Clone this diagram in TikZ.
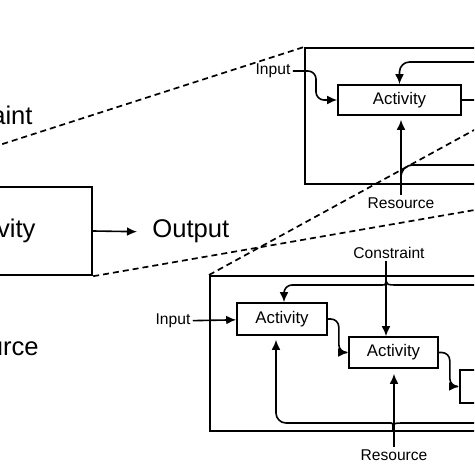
\documentclass[tikz,border=0pt]{standalone}
\usepackage{fontspec}
\setmainfont{Liberation Sans}
\usetikzlibrary{arrows.meta}

\begin{document}
\begin{tikzpicture}[x=0.5pt, y=-0.5pt,
    frame/.style={draw, line width=1.2pt},
    act/.style={draw, line width=0.8pt, font=\fontsize{8.4}{10}\selectfont, inner sep=0pt},
    lbl/.style={font=\fontsize{7.8}{9}\selectfont, inner sep=1pt},
    big/.style={font=\fontsize{12.8}{15}\selectfont, inner sep=0pt},
    flow/.style={line width=0.8pt, -{Latex[length=5pt, width=4.4pt]}},
    wire/.style={line width=0.8pt},
    zoomline/.style={line width=0.85pt, dash pattern=on 3pt off 2pt}]
  \useasboundingbox (0,0) rectangle (474,474);
  \clip (0,0) rectangle (474,474);

  % big activity
  \node[frame, minimum width=97pt, minimum height=44pt, font=\fontsize{12.8}{15}\selectfont] (bigact) at (-5,231) {Activity};
  \node[big, anchor=base east] (bigcon) at (33,125) {Constraint};
  \node[big, anchor=base east] (bigres) at (39,355) {Resource};
  \node[big, anchor=base west] (bigout) at (152,238) {Output};
  \draw[flow] (bigact.east) -- ([xshift=-7.5pt]bigout.west);

  % upper zoom
  \node[frame, anchor=north west, minimum width=155pt, minimum height=68pt] (upper) at (304,47) {};
  \node[act, minimum width=61.5pt, minimum height=15pt] (upact) at (399.5,100) {Activity};
  \node[lbl] (upin) at (273,71) {Input};
  \node[lbl] (upres) at (401,203) {Resource};
  \coordinate (upcon) at (490,62);
  \coordinate (upout) at (490,100);
  \coordinate (upnext) at (490,165);
  \draw[flow, rounded corners=4pt] (upin.east) -- (316,71) |- (upact.west);
  \draw[flow, rounded corners=5pt] (upcon) -| (upact.north);
  \draw[wire] (upact.east) -- (upout);
  \draw[flow, shorten >=2pt] (upres.north) -- (upres.north |- upact.south);
  \draw[wire] (401,178) .. controls (401,170) and (405,165) .. (414,165) -- (upnext);

  % lower zoom
  \node[frame, anchor=north west, minimum width=196pt, minimum height=77.5pt] (lower) at (209,275) {};
  \node[act, minimum width=45pt, minimum height=16pt] (act1) at (282,319) {Activity};
  \node[act, minimum width=44.5pt, minimum height=15.5pt] (act2) at (393.5,352.5) {Activity};
  \node[act, minimum width=44.5pt, minimum height=16.5pt, anchor=west] (act3) at (459,386.5) {Activity};
  \node[lbl] (lin) at (173,321) {Input};
  \node[lbl] (lcon) at (389,253) {Constraint};
  \node[lbl] (lres) at (394,455) {Resource};
  \coordinate (ltop) at (386,276);
  \coordinate (lbot) at (393,430);
  \coordinate (lconr) at (560,285);
  \coordinate (lresr) at (560,423);
  \draw[flow] (lin) -- (act1);
  \draw[flow] (ltop |- lcon.south) -- (ltop |- act2.north);
  \draw[flow, rounded corners=4pt] (ltop) .. controls (386,285) .. (374,285) -| ([xshift=1pt]act1.north);
  \draw[wire] (ltop) .. controls (386,285) .. (398,285) -- (lconr);
  \draw[flow, rounded corners=4pt] (act1.east) -- ++(11,0) |- (act2.west);
  \draw[flow, rounded corners=4pt] (act2.east) -- ++(11,0) |- (act3.west);
  \draw[flow, shorten >=2.5pt] (lres.north) -- (lres.north |- act2.south);
  \draw[flow, rounded corners=5pt, shorten >=2pt] (lbot) .. controls (393,423) .. (381,423) -| ([xshift=-3pt]act1.south);
  \draw[wire] (lbot) .. controls (393,423) .. (405,423) -- (lresr);

  % zoom lines
  \coordinate (bigcorner) at (-131,187);
  \coordinate (upnextcorner) at (540,94);
  \draw[zoomline] (bigcorner) -- (upper.north west);
  \draw[zoomline] (bigact.south east) -- (upper.south east);
  \draw[zoomline] (lower.north west) -- (upnextcorner);
\end{tikzpicture}
\end{document}
